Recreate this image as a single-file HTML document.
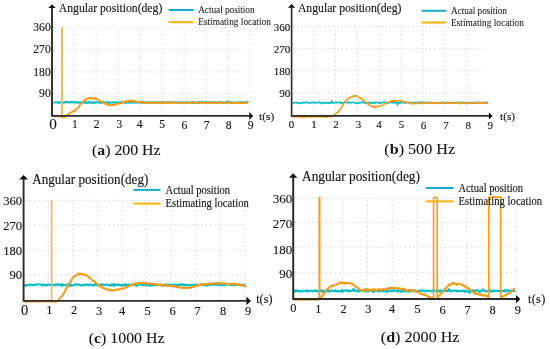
<!DOCTYPE html>
<html><head><meta charset="utf-8"><title>Angular position estimation</title>
<style>
html,body{margin:0;padding:0;background:#fff;}
body{width:550px;height:349px;overflow:hidden;}
svg{display:block;}
text{font-family:'Liberation Serif','Times New Roman',serif;}
</style></head><body>
<svg width="550" height="349" viewBox="0 0 550 349">
<rect width="550" height="349" fill="#fff"/>
<path d="M53.50,93.90 H247.50 M53.50,71.90 H247.50 M53.50,49.70 H247.50 M53.50,27.80 H247.50 M74.10,114.90 V27.80 M96.10,114.90 V27.80 M118.10,114.90 V27.80 M140.10,114.90 V27.80 M162.10,114.90 V27.80 M184.10,114.90 V27.80 M206.10,114.90 V27.80 M228.10,114.90 V27.80 M250.10,114.90 V27.80" stroke="#d6d6d6" stroke-width="1.1" stroke-dasharray="1.4 3.0" fill="none"/>
<path d="M293.10,93.10 H485.50 M293.10,70.80 H485.50 M293.10,48.70 H485.50 M293.10,26.60 H485.50 M313.60,114.90 V26.60 M335.50,114.90 V26.60 M357.40,114.90 V26.60 M379.30,114.90 V26.60 M401.20,114.90 V26.60 M423.10,114.90 V26.60 M445.00,114.90 V26.60 M466.90,114.90 V26.60" stroke="#d6d6d6" stroke-width="1.1" stroke-dasharray="1.4 3.0" fill="none"/>
<path d="M25.10,275.10 H245.10 M25.10,250.00 H245.10 M25.10,224.80 H245.10 M25.10,200.40 H245.10 M48.30,299.90 V200.40 M72.90,299.90 V200.40 M97.50,299.90 V200.40 M122.10,299.90 V200.40 M146.70,299.90 V200.40 M171.30,299.90 V200.40 M195.90,299.90 V200.40 M220.50,299.90 V200.40 M245.10,299.90 V200.40" stroke="#d6d6d6" stroke-width="1.1" stroke-dasharray="1.4 3.0" fill="none"/>
<path d="M294.70,272.50 H513.50 M294.70,247.20 H513.50 M294.70,222.50 H513.50 M294.70,197.90 H513.50 M317.95,298.10 V197.90 M342.70,298.10 V197.90 M367.45,298.10 V197.90 M392.20,298.10 V197.90 M416.95,298.10 V197.90 M441.70,298.10 V197.90 M466.45,298.10 V197.90 M491.20,298.10 V197.90 M515.95,298.10 V197.90" stroke="#d6d6d6" stroke-width="1.1" stroke-dasharray="1.4 3.0" fill="none"/>
<path d="M449,2 H528 V28.6 H449 Z M163,182 H252 V208.6 H163 Z M455,180 H546 V206.5 H455 Z" fill="#fff"/>
<path d="M53.50,102.50 L54.20,102.60 L54.90,102.40 L55.60,102.19 L56.30,102.34 L57.00,102.15 L57.70,102.52 L58.40,102.97 L59.10,102.33 L59.80,102.28 L60.50,102.67 L61.20,102.62 L61.90,102.54 L62.60,102.17 L63.30,102.49 L64.00,102.74 L64.70,102.03 L65.40,102.34 L66.10,101.83 L66.80,102.05 L67.50,101.86 L68.20,102.42 L68.90,102.06 L69.60,102.59 L70.30,102.55 L71.00,102.43 L71.70,101.62 L72.40,102.31 L73.10,102.48 L73.80,102.54 L74.50,101.96 L75.20,102.33 L75.90,102.16 L76.60,102.22 L77.30,102.87 L78.00,102.22 L78.70,102.49 L79.40,102.81 L80.10,102.30 L80.80,102.46 L81.50,102.54 L82.20,102.52 L82.90,102.07 L83.60,102.53 L84.30,102.98 L85.00,101.96 L85.70,102.80 L86.40,102.54 L87.10,102.28 L87.80,103.20 L88.50,102.77 L89.20,102.08 L89.90,102.53 L90.60,102.70 L91.30,102.43 L92.00,102.74 L92.70,102.48 L93.40,102.73 L94.10,103.00 L94.80,102.26 L95.50,102.57 L96.20,102.34 L96.90,102.54 L97.60,102.08 L98.30,102.30 L99.00,102.43 L99.70,102.81 L100.40,102.90 L101.10,102.04 L101.80,102.22 L102.50,102.73 L103.20,101.80 L103.90,102.34 L104.60,102.47 L105.30,102.94 L106.00,102.74 L106.70,102.39 L107.40,102.37 L108.10,102.41 L108.80,103.03 L109.50,102.35 L110.20,102.39 L110.90,102.62 L111.60,102.46 L112.30,102.43 L113.00,102.11 L113.70,102.50 L114.40,102.34 L115.10,102.91 L115.80,102.73 L116.50,102.49 L117.20,102.73 L117.90,102.38 L118.60,102.87 L119.30,102.50 L120.00,102.70 L120.70,102.05 L121.40,102.62 L122.10,101.91 L122.80,101.79 L123.50,102.39 L124.20,102.19 L124.90,102.56 L125.60,103.29 L126.30,102.21 L127.00,102.28 L127.70,102.57 L128.40,102.67 L129.10,102.44 L129.80,102.43 L130.50,102.75 L131.20,102.68 L131.90,102.14 L132.60,102.47 L133.30,102.51 L134.00,102.13 L134.70,102.59 L135.40,102.20 L136.10,102.84 L136.80,102.57 L137.50,102.53 L138.20,102.29 L138.90,102.46 L139.60,101.80 L140.30,102.10 L141.00,102.63 L141.70,101.76 L142.40,102.80 L143.10,101.89 L143.80,102.76 L144.50,102.20 L145.20,102.77 L145.90,102.55 L146.60,101.96 L147.30,102.94 L148.00,103.00 L148.70,102.48 L149.40,102.40 L150.10,102.44 L150.80,102.16 L151.50,102.88 L152.20,102.31 L152.90,102.48 L153.60,102.22 L154.30,102.28 L155.00,102.05 L155.70,102.94 L156.40,102.45 L157.10,102.84 L157.80,102.50 L158.50,102.26 L159.20,102.39 L159.90,102.30 L160.60,102.50 L161.30,102.37 L162.00,102.40 L162.70,102.02 L163.40,102.22 L164.10,103.08 L164.80,102.27 L165.50,102.13 L166.20,102.62 L166.90,102.99 L167.60,101.99 L168.30,102.43 L169.00,102.28 L169.70,101.88 L170.40,102.76 L171.10,102.49 L171.80,102.53 L172.50,102.24 L173.20,102.66 L173.90,102.31 L174.60,102.45 L175.30,102.11 L176.00,102.07 L176.70,102.97 L177.40,102.32 L178.10,102.60 L178.80,102.49 L179.50,102.35 L180.20,102.32 L180.90,102.72 L181.60,102.39 L182.30,102.45 L183.00,102.51 L183.70,102.91 L184.40,102.74 L185.10,102.63 L185.80,102.30 L186.50,102.02 L187.20,102.83 L187.90,102.84 L188.60,102.45 L189.30,102.69 L190.00,102.77 L190.70,102.79 L191.40,102.82 L192.10,102.34 L192.80,103.03 L193.50,102.06 L194.20,102.80 L194.90,102.67 L195.60,102.81 L196.30,103.16 L197.00,103.02 L197.70,102.10 L198.40,101.91 L199.10,102.79 L199.80,102.14 L200.50,102.50 L201.20,102.79 L201.90,101.92 L202.60,101.76 L203.30,102.59 L204.00,102.52 L204.70,102.41 L205.40,102.51 L206.10,102.20 L206.80,101.97 L207.50,102.44 L208.20,102.16 L208.90,101.92 L209.60,102.68 L210.30,102.48 L211.00,102.64 L211.70,102.15 L212.40,102.27 L213.10,102.15 L213.80,102.19 L214.50,102.57 L215.20,102.23 L215.90,102.62 L216.60,102.62 L217.30,103.21 L218.00,102.01 L218.70,102.81 L219.40,102.47 L220.10,102.50 L220.80,101.99 L221.50,102.34 L222.20,102.76 L222.90,102.47 L223.60,102.53 L224.30,102.40 L225.00,102.90 L225.70,102.49 L226.40,101.73 L227.10,102.26 L227.80,101.81 L228.50,101.36 L229.20,102.31 L229.90,102.97 L230.60,102.52 L231.30,102.09 L232.00,102.17 L232.70,102.90 L233.40,102.56 L234.10,102.52 L234.80,102.48 L235.50,102.51 L236.20,102.78 L236.90,102.69 L237.60,102.58 L238.30,102.13 L239.00,102.68 L239.70,102.26 L240.40,102.88 L241.10,102.06 L241.80,102.45 L242.50,102.50 L243.20,102.04 L243.90,103.10 L244.60,103.01 L245.30,102.34 L246.00,102.77 L246.70,102.63 L247.40,101.59 L248.10,102.59" stroke="#08bec6" stroke-width="2.0" fill="none" stroke-linejoin="round"/>
<path d="M52.5,116.9 H61.5" stroke="#f69a18" stroke-width="1.2" fill="none" opacity="0.7"/>
<path d="M61.30,116.78 L61.80,117.12 L62.30,117.00 L62.80,117.32 L63.30,117.32 L63.80,117.55 L64.30,117.07 L64.80,116.71 L65.30,116.85 L65.80,115.91 L66.30,115.55 L66.80,114.75 L67.30,115.31 L67.80,114.74 L68.30,114.34 L68.80,113.89 L69.30,113.40 L69.80,113.12 L70.30,112.70 L70.80,112.44 L71.30,112.25 L71.80,112.40 L72.30,111.87 L72.80,111.44 L73.30,111.03 L73.80,110.74 L74.30,111.07 L74.80,110.46 L75.30,110.03 L75.80,109.60 L76.30,109.06 L76.80,108.99 L77.30,108.84 L77.80,108.00 L78.30,107.47 L78.80,106.83 L79.30,106.24 L79.80,105.06 L80.30,104.74 L80.80,103.90 L81.30,103.78 L81.80,102.77 L82.30,102.62 L82.80,102.36 L83.30,101.32 L83.80,100.74 L84.30,100.50 L84.80,100.03 L85.30,99.40 L85.80,99.52 L86.30,99.74 L86.80,98.89 L87.30,98.71 L87.80,98.29 L88.30,98.50 L88.80,97.91 L89.30,97.82 L89.80,98.38 L90.30,97.69 L90.80,98.21 L91.30,98.33 L91.80,98.00 L92.30,98.13 L92.80,98.59 L93.30,98.08 L93.80,98.08 L94.30,97.99 L94.80,98.51 L95.30,99.05 L95.80,99.05 L96.30,98.67 L96.80,98.88 L97.30,99.21 L97.80,99.71 L98.30,99.87 L98.80,100.30 L99.30,100.65 L99.80,100.80 L100.30,101.17 L100.80,101.53 L101.30,101.75 L101.80,102.22 L102.30,102.91 L102.80,102.86 L103.30,103.00 L103.80,102.80 L104.30,103.64 L104.80,103.21 L105.30,103.57 L105.80,104.42 L106.30,104.58 L106.80,104.53 L107.30,104.26 L107.80,104.77 L108.30,104.78 L108.80,105.21 L109.30,105.71 L109.80,105.19 L110.30,104.94 L110.80,104.86 L111.30,105.18 L111.80,105.14 L112.30,104.83 L112.80,105.11 L113.30,104.66 L113.80,105.18 L114.30,105.04 L114.80,104.91 L115.30,104.34 L115.80,104.49 L116.30,104.19 L116.80,103.98 L117.30,103.85 L117.80,103.43 L118.30,103.23 L118.80,103.70 L119.30,103.26 L119.80,103.21 L120.30,103.27 L120.80,102.35 L121.30,102.46 L121.80,102.60 L122.30,102.53 L122.80,102.20 L123.30,102.48 L123.80,102.12 L124.30,101.60 L124.80,101.56 L125.30,101.92 L125.80,101.71 L126.30,100.93 L126.80,101.73 L127.30,101.41 L127.80,101.52 L128.30,100.95 L128.80,100.90 L129.30,100.60 L129.80,101.58 L130.30,100.78 L130.80,101.25 L131.30,100.62 L131.80,100.86 L132.30,100.39 L132.80,100.81 L133.30,101.28 L133.80,100.75 L134.30,101.50 L134.80,101.41 L135.30,101.15 L135.80,101.43 L136.30,101.57 L136.80,101.81 L137.30,101.79 L137.80,101.83 L138.30,102.08 L138.80,101.97 L139.30,101.97 L139.80,102.38 L140.30,102.68 L140.80,102.05 L141.30,102.52 L141.80,102.38 L142.30,102.33 L142.80,102.88 L143.30,102.53 L143.80,103.13 L144.30,102.53 L144.80,102.89 L145.30,102.74 L145.80,102.62 L146.30,103.02 L146.80,102.83 L147.30,103.05 L147.80,102.88 L148.30,102.60 L148.80,102.87 L149.30,102.91 L149.80,103.17 L150.30,102.64 L150.80,102.88 L151.30,102.40 L151.80,103.06 L152.30,102.57 L152.80,102.36 L153.30,102.85 L153.80,103.17 L154.30,102.42 L154.80,102.54 L155.30,102.63 L155.80,102.51 L156.30,102.93 L156.80,102.59 L157.30,102.61 L157.80,102.97 L158.30,102.59 L158.80,102.92 L159.30,102.53 L159.80,102.46 L160.30,102.29 L160.80,103.32 L161.30,102.71 L161.80,102.87 L162.30,102.79 L162.80,102.84 L163.30,102.81 L163.80,103.33 L164.30,102.51 L164.80,102.36 L165.30,102.52 L165.80,102.43 L166.30,103.01 L166.80,103.03 L167.30,102.53 L167.80,102.41 L168.30,102.70 L168.80,103.19 L169.30,102.01 L169.80,102.95 L170.30,102.50 L170.80,103.09 L171.30,102.50 L171.80,102.72 L172.30,102.38 L172.80,102.53 L173.30,103.19 L173.80,103.03 L174.30,102.69 L174.80,102.56 L175.30,102.27 L175.80,102.69 L176.30,102.79 L176.80,102.78 L177.30,102.77 L177.80,102.49 L178.30,102.78 L178.80,102.79 L179.30,103.16 L179.80,103.32 L180.30,102.76 L180.80,102.59 L181.30,102.78 L181.80,102.63 L182.30,102.59 L182.80,102.78 L183.30,102.51 L183.80,102.97 L184.30,102.77 L184.80,102.87 L185.30,102.75 L185.80,102.60 L186.30,102.53 L186.80,102.73 L187.30,102.65 L187.80,102.87 L188.30,102.80 L188.80,102.42 L189.30,102.82 L189.80,102.42 L190.30,102.63 L190.80,102.72 L191.30,102.22 L191.80,102.83 L192.30,102.84 L192.80,102.76 L193.30,102.68 L193.80,102.70 L194.30,102.53 L194.80,102.72 L195.30,102.65 L195.80,102.83 L196.30,102.46 L196.80,102.87 L197.30,102.84 L197.80,102.76 L198.30,102.68 L198.80,102.95 L199.30,102.33 L199.80,102.93 L200.30,102.87 L200.80,102.88 L201.30,102.91 L201.80,102.62 L202.30,102.73 L202.80,102.98 L203.30,102.92 L203.80,102.86 L204.30,102.38 L204.80,102.95 L205.30,103.13 L205.80,103.08 L206.30,102.87 L206.80,102.36 L207.30,103.06 L207.80,102.76 L208.30,102.09 L208.80,102.91 L209.30,102.38 L209.80,102.44 L210.30,102.62 L210.80,103.16 L211.30,102.70 L211.80,102.88 L212.30,103.29 L212.80,103.25 L213.30,102.77 L213.80,102.73 L214.30,102.45 L214.80,102.61 L215.30,102.92 L215.80,102.91 L216.30,102.83 L216.80,103.08 L217.30,102.58 L217.80,102.78 L218.30,103.00 L218.80,102.96 L219.30,103.10 L219.80,102.91 L220.30,102.71 L220.80,102.90 L221.30,102.52 L221.80,102.34 L222.30,102.96 L222.80,102.78 L223.30,102.89 L223.80,102.32 L224.30,102.70 L224.80,102.63 L225.30,102.56 L225.80,102.17 L226.30,102.71 L226.80,103.05 L227.30,102.91 L227.80,102.63 L228.30,102.80 L228.80,103.01 L229.30,102.03 L229.80,102.77 L230.30,102.95 L230.80,102.99 L231.30,103.28 L231.80,103.12 L232.30,102.89 L232.80,102.88 L233.30,103.02 L233.80,102.65 L234.30,102.79 L234.80,103.05 L235.30,103.35 L235.80,102.76 L236.30,102.79 L236.80,102.86 L237.30,103.18 L237.80,102.79 L238.30,103.21 L238.80,102.53 L239.30,102.75 L239.80,102.74 L240.30,103.02 L240.80,103.09 L241.30,102.38 L241.80,102.54 L242.30,102.89 L242.80,102.62 L243.30,102.37 L243.80,103.09 L244.30,102.94 L244.80,102.94 L245.30,102.67 L245.80,103.09 L246.30,102.73 L246.80,103.11 L247.30,102.54 L247.80,102.56 L248.30,102.86" stroke="#f69a18" stroke-width="1.8" fill="none" stroke-linejoin="round"/>
<path d="M62.0,116.5 V27.2" stroke="#fbb245" stroke-width="1.8" fill="none"/>
<path d="M292.50,102.45 L293.20,102.94 L293.90,102.79 L294.60,102.38 L295.30,102.73 L296.00,102.58 L296.70,103.02 L297.40,102.48 L298.10,102.55 L298.80,103.12 L299.50,103.48 L300.20,103.40 L300.90,102.72 L301.60,102.78 L302.30,103.24 L303.00,102.66 L303.70,102.36 L304.40,102.74 L305.10,102.86 L305.80,102.41 L306.50,102.12 L307.20,102.20 L307.90,102.93 L308.60,102.43 L309.30,102.65 L310.00,102.77 L310.70,102.92 L311.40,102.58 L312.10,102.87 L312.80,102.39 L313.50,102.57 L314.20,102.34 L314.90,103.10 L315.60,102.69 L316.30,102.44 L317.00,102.58 L317.70,102.62 L318.40,102.95 L319.10,102.14 L319.80,102.34 L320.50,102.57 L321.20,103.59 L321.90,103.03 L322.60,102.66 L323.30,102.95 L324.00,103.42 L324.70,102.62 L325.40,102.57 L326.10,103.12 L326.80,102.87 L327.50,102.93 L328.20,102.52 L328.90,103.37 L329.60,103.30 L330.30,102.90 L331.00,102.94 L331.70,100.79 L332.40,102.92 L333.10,102.63 L333.80,102.85 L334.50,102.94 L335.20,102.58 L335.90,102.11 L336.60,102.83 L337.30,102.44 L338.00,102.58 L338.70,102.49 L339.40,102.58 L340.10,101.89 L340.80,103.13 L341.50,102.79 L342.20,103.09 L342.90,103.39 L343.60,102.71 L344.30,102.07 L345.00,102.39 L345.70,102.28 L346.40,102.52 L347.10,102.73 L347.80,102.00 L348.50,102.82 L349.20,102.17 L349.90,102.80 L350.60,102.66 L351.30,102.59 L352.00,102.67 L352.70,102.51 L353.40,102.49 L354.10,102.11 L354.80,102.69 L355.50,103.35 L356.20,103.39 L356.90,103.16 L357.60,102.95 L358.30,102.46 L359.00,103.20 L359.70,102.68 L360.40,102.68 L361.10,102.60 L361.80,102.73 L362.50,101.75 L363.20,102.67 L363.90,102.32 L364.60,102.57 L365.30,103.50 L366.00,102.68 L366.70,102.62 L367.40,102.89 L368.10,102.95 L368.80,102.31 L369.50,102.63 L370.20,103.02 L370.90,102.79 L371.60,102.74 L372.30,103.24 L373.00,102.46 L373.70,102.73 L374.40,102.52 L375.10,103.22 L375.80,102.02 L376.50,102.47 L377.20,102.51 L377.90,102.93 L378.60,102.91 L379.30,103.19 L380.00,102.15 L380.70,102.96 L381.40,102.60 L382.10,102.47 L382.80,102.89 L383.50,102.38 L384.20,101.97 L384.90,102.57 L385.60,102.18 L386.30,102.47 L387.00,102.83 L387.70,102.81 L388.40,103.26 L389.10,102.63 L389.80,102.16 L390.50,102.44 L391.20,102.38 L391.90,102.27 L392.60,102.85 L393.30,102.47 L394.00,102.01 L394.70,102.94 L395.40,102.66 L396.10,102.82 L396.80,102.74 L397.50,105.12 L398.20,102.71 L398.90,103.13 L399.60,102.85 L400.30,102.84 L401.00,102.84 L401.70,102.19 L402.40,102.64 L403.10,102.61 L403.80,102.77 L404.50,102.22 L405.20,103.27 L405.90,102.74 L406.60,102.28 L407.30,102.10 L408.00,102.60 L408.70,102.67 L409.40,102.45 L410.10,102.73 L410.80,102.48 L411.50,102.89 L412.20,102.45 L412.90,102.69 L413.60,103.04 L414.30,103.60 L415.00,102.35 L415.70,102.54 L416.40,102.41 L417.10,102.97 L417.80,102.30 L418.50,102.53 L419.20,102.69 L419.90,102.36 L420.60,102.36 L421.30,102.53 L422.00,101.96 L422.70,102.19 L423.40,102.56 L424.10,102.75 L424.80,102.63 L425.50,102.08 L426.20,102.54 L426.90,102.98 L427.60,102.89 L428.30,102.67 L429.00,102.39 L429.70,102.92 L430.40,102.50 L431.10,102.29 L431.80,102.42 L432.50,103.21 L433.20,102.78 L433.90,103.11 L434.60,102.53 L435.30,103.03 L436.00,102.49 L436.70,102.64 L437.40,103.57 L438.10,102.97 L438.80,102.52 L439.50,102.67 L440.20,102.81 L440.90,103.12 L441.60,102.53 L442.30,102.09 L443.00,102.60 L443.70,102.71 L444.40,102.74 L445.10,103.16 L445.80,102.81 L446.50,102.98 L447.20,102.31 L447.90,103.00 L448.60,103.43 L449.30,102.97 L450.00,102.79 L450.70,102.75 L451.40,103.33 L452.10,102.38 L452.80,102.66 L453.50,102.86 L454.20,102.96 L454.90,102.55 L455.60,102.81 L456.30,102.60 L457.00,102.74 L457.70,102.65 L458.40,102.30 L459.10,102.69 L459.80,103.01 L460.50,102.36 L461.20,102.62 L461.90,102.93 L462.60,102.33 L463.30,102.76 L464.00,102.33 L464.70,103.10 L465.40,103.51 L466.10,103.41 L466.80,102.62 L467.50,102.96 L468.20,102.74 L468.90,102.74 L469.60,103.24 L470.30,102.24 L471.00,103.07 L471.70,102.68 L472.40,103.19 L473.10,102.77 L473.80,102.46 L474.50,102.80 L475.20,102.96 L475.90,102.71 L476.60,102.87 L477.30,102.52 L478.00,101.95 L478.70,103.02 L479.40,102.94 L480.10,102.75 L480.80,102.72 L481.50,103.06 L482.20,102.54 L482.90,102.45 L483.60,102.63 L484.30,103.12 L485.00,102.21 L485.70,103.12 L486.40,102.48 L487.10,102.31 L487.80,103.14" stroke="#08bec6" stroke-width="1.6" fill="none" stroke-linejoin="round"/>
<path d="M291.60,116.67 L292.10,116.34 L292.60,116.60 L293.10,116.96 L293.60,117.03 L294.10,116.58 L294.60,116.81 L295.10,116.90 L295.60,116.52 L296.10,116.80 L296.60,116.69 L297.10,116.55 L297.60,116.56 L298.10,116.72 L298.60,116.71 L299.10,116.54 L299.60,116.58 L300.10,117.01 L300.60,116.76 L301.10,116.95 L301.60,117.04 L302.10,116.86 L302.60,117.34 L303.10,116.47 L303.60,116.93 L304.10,116.61 L304.60,117.22 L305.10,117.18 L305.60,116.15 L306.10,116.43 L306.60,116.89 L307.10,116.92 L307.60,116.91 L308.10,116.68 L308.60,116.83 L309.10,116.88 L309.60,116.68 L310.10,116.99 L310.60,116.07 L311.10,116.88 L311.60,116.41 L312.10,116.97 L312.60,116.64 L313.10,116.45 L313.60,116.80 L314.10,116.44 L314.60,116.44 L315.10,116.26 L315.60,116.69 L316.10,116.84 L316.60,116.99 L317.10,116.66 L317.60,116.99 L318.10,116.71 L318.60,116.67 L319.10,116.86 L319.60,117.00 L320.10,116.60 L320.60,116.63 L321.10,116.65 L321.60,116.72 L322.10,116.45 L322.60,116.99 L323.10,116.59 L323.60,116.83 L324.10,116.47 L324.60,116.80 L325.10,116.81 L325.60,116.58 L326.10,117.27 L326.60,116.80 L327.10,117.20 L327.60,116.97 L328.10,116.51 L328.60,116.59 L329.10,116.82 L329.60,116.72 L330.10,116.71 L330.60,116.62 L331.10,116.19 L331.60,116.56 L332.10,115.82 L332.60,116.30 L333.10,115.68 L333.60,115.33 L334.10,115.10 L334.60,114.86 L335.10,114.03 L335.60,113.57 L336.10,113.36 L336.60,112.65 L337.10,112.49 L337.60,112.72 L338.10,111.47 L338.60,111.41 L339.10,110.30 L339.60,110.20 L340.10,109.42 L340.60,108.81 L341.10,108.23 L341.60,107.76 L342.10,106.48 L342.60,105.60 L343.10,104.43 L343.60,104.02 L344.10,102.97 L344.60,102.50 L345.10,101.55 L345.60,101.42 L346.10,99.84 L346.60,99.85 L347.10,99.75 L347.60,98.99 L348.10,98.47 L348.60,98.25 L349.10,97.60 L349.60,97.72 L350.10,98.09 L350.60,97.49 L351.10,96.65 L351.60,96.52 L352.10,96.46 L352.60,96.67 L353.10,96.00 L353.60,95.89 L354.10,96.23 L354.60,96.16 L355.10,95.80 L355.60,95.63 L356.10,95.61 L356.60,95.99 L357.10,95.74 L357.60,96.79 L358.10,96.64 L358.60,97.20 L359.10,97.85 L359.60,97.92 L360.10,97.53 L360.60,98.39 L361.10,98.81 L361.60,98.65 L362.10,99.00 L362.60,99.66 L363.10,99.69 L363.60,100.99 L364.10,100.36 L364.60,101.16 L365.10,101.81 L365.60,102.22 L366.10,102.69 L366.60,103.09 L367.10,103.33 L367.60,104.09 L368.10,103.55 L368.60,104.51 L369.10,104.65 L369.60,105.19 L370.10,105.49 L370.60,105.40 L371.10,105.65 L371.60,106.21 L372.10,106.24 L372.60,106.10 L373.10,107.00 L373.60,107.19 L374.10,106.24 L374.60,106.81 L375.10,107.48 L375.60,107.02 L376.10,106.85 L376.60,106.69 L377.10,106.53 L377.60,106.53 L378.10,106.33 L378.60,106.57 L379.10,106.12 L379.60,105.98 L380.10,105.64 L380.60,105.81 L381.10,105.39 L381.60,105.39 L382.10,105.51 L382.60,105.08 L383.10,104.87 L383.60,104.58 L384.10,104.25 L384.60,103.96 L385.10,103.68 L385.60,103.77 L386.10,103.04 L386.60,103.50 L387.10,102.91 L387.60,102.47 L388.10,102.33 L388.60,102.06 L389.10,102.10 L389.60,101.68 L390.10,102.04 L390.60,101.37 L391.10,100.84 L391.60,101.18 L392.10,100.73 L392.60,101.20 L393.10,101.42 L393.60,101.22 L394.10,100.59 L394.60,100.69 L395.10,101.34 L395.60,100.88 L396.10,100.75 L396.60,101.02 L397.10,101.39 L397.60,101.06 L398.10,100.75 L398.60,100.85 L399.10,100.98 L399.60,100.70 L400.10,100.66 L400.60,101.06 L401.10,100.89 L401.60,101.24 L402.10,101.40 L402.60,102.15 L403.10,101.37 L403.60,101.68 L404.10,101.78 L404.60,102.05 L405.10,102.31 L405.60,101.98 L406.10,101.99 L406.60,101.87 L407.10,102.18 L407.60,102.71 L408.10,102.69 L408.60,102.51 L409.10,102.81 L409.60,103.04 L410.10,103.28 L410.60,103.07 L411.10,103.26 L411.60,102.90 L412.10,103.16 L412.60,103.99 L413.10,102.96 L413.60,103.50 L414.10,103.66 L414.60,103.49 L415.10,103.35 L415.60,103.54 L416.10,103.54 L416.60,103.49 L417.10,102.95 L417.60,103.40 L418.10,103.17 L418.60,103.22 L419.10,103.39 L419.60,103.47 L420.10,103.50 L420.60,103.07 L421.10,103.43 L421.60,103.46 L422.10,103.42 L422.60,103.46 L423.10,103.01 L423.60,102.98 L424.10,103.24 L424.60,102.62 L425.10,103.06 L425.60,102.85 L426.10,102.90 L426.60,102.51 L427.10,102.75 L427.60,102.99 L428.10,103.25 L428.60,103.28 L429.10,102.98 L429.60,102.95 L430.10,102.77 L430.60,103.11 L431.10,102.93 L431.60,103.17 L432.10,103.49 L432.60,102.99 L433.10,102.58 L433.60,102.76 L434.10,102.59 L434.60,102.66 L435.10,103.37 L435.60,103.06 L436.10,102.57 L436.60,103.18 L437.10,103.35 L437.60,102.90 L438.10,102.81 L438.60,102.91 L439.10,103.08 L439.60,103.18 L440.10,103.33 L440.60,103.34 L441.10,103.33 L441.60,103.38 L442.10,103.19 L442.60,102.57 L443.10,102.96 L443.60,103.09 L444.10,102.89 L444.60,103.26 L445.10,102.90 L445.60,102.74 L446.10,103.40 L446.60,103.19 L447.10,103.06 L447.60,103.26 L448.10,103.30 L448.60,103.10 L449.10,102.31 L449.60,102.81 L450.10,102.87 L450.60,102.72 L451.10,103.06 L451.60,103.33 L452.10,102.86 L452.60,102.68 L453.10,103.57 L453.60,102.87 L454.10,102.65 L454.60,103.07 L455.10,103.12 L455.60,102.80 L456.10,103.22 L456.60,102.86 L457.10,102.74 L457.60,103.05 L458.10,103.22 L458.60,102.82 L459.10,103.09 L459.60,102.97 L460.10,103.79 L460.60,102.80 L461.10,103.39 L461.60,102.99 L462.10,102.96 L462.60,103.20 L463.10,103.25 L463.60,103.35 L464.10,103.09 L464.60,102.83 L465.10,102.85 L465.60,103.14 L466.10,103.16 L466.60,103.39 L467.10,103.12 L467.60,103.30 L468.10,103.42 L468.60,103.05 L469.10,102.58 L469.60,102.67 L470.10,102.60 L470.60,103.45 L471.10,102.76 L471.60,103.34 L472.10,103.16 L472.60,103.48 L473.10,103.28 L473.60,102.97 L474.10,102.94 L474.60,103.02 L475.10,103.05 L475.60,102.85 L476.10,102.99 L476.60,103.45 L477.10,102.52 L477.60,103.07 L478.10,102.75 L478.60,103.05 L479.10,103.24 L479.60,102.98 L480.10,103.22 L480.60,102.55 L481.10,103.31 L481.60,102.83 L482.10,103.17 L482.60,103.05 L483.10,102.28 L483.60,102.79 L484.10,103.06 L484.60,103.44 L485.10,103.08 L485.60,103.07 L486.10,102.60 L486.60,103.40 L487.10,103.51 L487.60,103.01 L488.10,102.94" stroke="#f69a18" stroke-width="1.5" fill="none" stroke-linejoin="round"/>
<path d="M24.50,284.28 L25.20,285.24 L25.90,285.93 L26.60,285.17 L27.30,285.38 L28.00,285.11 L28.70,284.53 L29.40,285.41 L30.10,284.43 L30.80,284.82 L31.50,285.01 L32.20,285.24 L32.90,285.06 L33.60,285.05 L34.30,284.61 L35.00,284.41 L35.70,284.92 L36.40,284.63 L37.10,284.40 L37.80,284.42 L38.50,284.71 L39.20,284.20 L39.90,284.39 L40.60,284.28 L41.30,284.97 L42.00,285.06 L42.70,285.66 L43.40,284.33 L44.10,284.64 L44.80,285.25 L45.50,284.82 L46.20,284.78 L46.90,285.55 L47.60,284.77 L48.30,284.46 L49.00,284.40 L49.70,285.03 L50.40,285.02 L51.10,284.38 L51.80,284.53 L52.50,285.10 L53.20,285.12 L53.90,284.66 L54.60,285.14 L55.30,285.12 L56.00,284.22 L56.70,284.78 L57.40,285.06 L58.10,284.68 L58.80,284.09 L59.50,284.79 L60.20,285.19 L60.90,285.50 L61.60,284.07 L62.30,285.89 L63.00,284.47 L63.70,285.26 L64.40,285.37 L65.10,285.27 L65.80,284.96 L66.50,284.46 L67.20,285.14 L67.90,284.63 L68.60,283.94 L69.30,285.97 L70.00,285.17 L70.70,285.59 L71.40,284.55 L72.10,285.46 L72.80,285.50 L73.50,285.49 L74.20,284.89 L74.90,284.44 L75.60,284.83 L76.30,284.06 L77.00,284.25 L77.70,284.93 L78.40,284.52 L79.10,284.84 L79.80,284.86 L80.50,285.63 L81.20,285.39 L81.90,284.88 L82.60,285.36 L83.30,284.60 L84.00,284.77 L84.70,285.25 L85.40,284.43 L86.10,284.79 L86.80,284.40 L87.50,284.94 L88.20,285.52 L88.90,284.61 L89.60,284.99 L90.30,284.56 L91.00,284.46 L91.70,284.43 L92.40,285.45 L93.10,285.80 L93.80,285.08 L94.50,284.63 L95.20,285.17 L95.90,284.77 L96.60,285.20 L97.30,285.01 L98.00,285.01 L98.70,285.13 L99.40,284.68 L100.10,284.75 L100.80,284.25 L101.50,284.73 L102.20,284.36 L102.90,284.85 L103.60,284.54 L104.30,284.94 L105.00,285.07 L105.70,284.36 L106.40,284.59 L107.10,284.54 L107.80,285.18 L108.50,285.55 L109.20,285.22 L109.90,284.77 L110.60,285.46 L111.30,284.32 L112.00,285.47 L112.70,284.65 L113.40,283.84 L114.10,285.91 L114.80,285.50 L115.50,284.51 L116.20,284.96 L116.90,284.82 L117.60,284.94 L118.30,284.34 L119.00,284.64 L119.70,285.08 L120.40,284.98 L121.10,285.36 L121.80,284.93 L122.50,285.79 L123.20,284.63 L123.90,285.00 L124.60,284.17 L125.30,284.42 L126.00,285.40 L126.70,284.54 L127.40,285.10 L128.10,284.88 L128.80,284.50 L129.50,284.77 L130.20,284.70 L130.90,284.71 L131.60,285.19 L132.30,285.15 L133.00,284.68 L133.70,284.56 L134.40,285.01 L135.10,284.86 L135.80,285.29 L136.50,285.91 L137.20,285.22 L137.90,284.89 L138.60,284.83 L139.30,284.57 L140.00,284.56 L140.70,284.52 L141.40,284.75 L142.10,284.74 L142.80,285.18 L143.50,284.75 L144.20,284.82 L144.90,284.44 L145.60,285.52 L146.30,285.09 L147.00,285.58 L147.70,285.20 L148.40,285.47 L149.10,284.81 L149.80,285.17 L150.50,285.93 L151.20,284.44 L151.90,285.35 L152.60,285.55 L153.30,285.06 L154.00,285.19 L154.70,285.39 L155.40,284.65 L156.10,285.06 L156.80,284.56 L157.50,284.64 L158.20,284.66 L158.90,284.84 L159.60,284.96 L160.30,285.08 L161.00,284.35 L161.70,285.67 L162.40,285.35 L163.10,285.18 L163.80,284.76 L164.50,284.87 L165.20,285.11 L165.90,285.06 L166.60,284.25 L167.30,285.19 L168.00,286.04 L168.70,284.18 L169.40,285.29 L170.10,285.04 L170.80,284.86 L171.50,285.43 L172.20,284.44 L172.90,284.96 L173.60,285.47 L174.30,284.82 L175.00,284.74 L175.70,284.94 L176.40,284.73 L177.10,285.50 L177.80,284.55 L178.50,285.24 L179.20,284.41 L179.90,285.16 L180.60,284.86 L181.30,283.89 L182.00,284.90 L182.70,284.48 L183.40,284.73 L184.10,285.50 L184.80,284.46 L185.50,284.49 L186.20,285.46 L186.90,284.95 L187.60,285.50 L188.30,285.03 L189.00,284.56 L189.70,284.87 L190.40,285.38 L191.10,285.27 L191.80,284.90 L192.50,284.92 L193.20,284.86 L193.90,284.67 L194.60,285.65 L195.30,284.90 L196.00,284.46 L196.70,284.71 L197.40,285.18 L198.10,285.15 L198.80,284.85 L199.50,284.64 L200.20,284.91 L200.90,284.25 L201.60,284.39 L202.30,285.21 L203.00,284.71 L203.70,285.05 L204.40,285.38 L205.10,285.15 L205.80,284.91 L206.50,285.73 L207.20,285.16 L207.90,284.76 L208.60,285.19 L209.30,285.06 L210.00,284.57 L210.70,284.93 L211.40,284.84 L212.10,284.13 L212.80,284.83 L213.50,284.79 L214.20,284.73 L214.90,284.26 L215.60,284.76 L216.30,284.88 L217.00,284.94 L217.70,284.46 L218.40,285.15 L219.10,284.43 L219.80,284.81 L220.50,285.41 L221.20,284.63 L221.90,284.70 L222.60,285.32 L223.30,284.75 L224.00,284.78 L224.70,284.99 L225.40,285.31 L226.10,284.04 L226.80,284.58 L227.50,284.51 L228.20,284.48 L228.90,284.57 L229.60,284.57 L230.30,285.02 L231.00,284.55 L231.70,284.95 L232.40,285.06 L233.10,284.62 L233.80,284.95 L234.50,285.54 L235.20,285.03 L235.90,284.65 L236.60,284.87 L237.30,284.54 L238.00,285.01 L238.70,285.24 L239.40,284.58 L240.10,284.82 L240.80,285.33 L241.50,284.71 L242.20,284.97 L242.90,284.50 L243.60,284.58 L244.30,284.70 L245.00,285.73 L245.70,284.74" stroke="#08bec6" stroke-width="2.0" fill="none" stroke-linejoin="round"/>
<path d="M23.70,301.23 L24.20,301.22 L24.70,301.35 L25.20,301.61 L25.70,301.46 L26.20,302.06 L26.70,301.47 L27.20,301.86 L27.70,301.49 L28.20,301.59 L28.70,300.94 L29.20,301.36 L29.70,301.38 L30.20,301.32 L30.70,300.71 L31.20,301.68 L31.70,301.28 L32.20,301.26 L32.70,301.32 L33.20,301.33 L33.70,301.53 L34.20,300.99 L34.70,301.10 L35.20,301.49 L35.70,301.45 L36.20,301.28 L36.70,301.22 L37.20,301.13 L37.70,301.38 L38.20,301.78 L38.70,301.06 L39.20,301.89 L39.70,301.67 L40.20,301.26 L40.70,301.65 L41.20,300.93 L41.70,300.85 L42.20,300.99 L42.70,301.27 L43.20,301.30 L43.70,301.24 L44.20,301.43 L44.70,300.72 L45.20,301.56 L45.70,300.95 L46.20,301.19 L46.70,301.27 L47.20,301.03 L47.70,300.96 L48.20,301.08 L48.70,301.40 L49.20,301.59 L49.70,301.58 L50.20,301.08 L50.70,301.15 L51.20,301.11 L51.70,301.54 L52.20,300.75 L52.70,301.80 L53.20,301.24 L53.70,301.15 L54.20,301.51 L54.70,301.73 L55.20,301.51 L55.70,301.73 L56.20,301.36 L56.70,301.54 L57.20,301.27 L57.70,300.50 L58.20,300.58 L58.70,299.71 L59.20,299.17 L59.70,298.31 L60.20,297.96 L60.70,297.74 L61.20,296.51 L61.70,296.58 L62.20,295.87 L62.70,295.16 L63.20,293.60 L63.70,293.46 L64.20,292.85 L64.70,291.51 L65.20,290.87 L65.70,289.15 L66.20,289.19 L66.70,287.84 L67.20,287.43 L67.70,285.68 L68.20,285.66 L68.70,284.57 L69.20,284.10 L69.70,282.70 L70.20,281.94 L70.70,282.00 L71.20,280.16 L71.70,279.38 L72.20,278.73 L72.70,277.76 L73.20,277.82 L73.70,277.42 L74.20,276.17 L74.70,275.48 L75.20,276.10 L75.70,275.77 L76.20,275.39 L76.70,275.22 L77.20,274.32 L77.70,274.31 L78.20,273.72 L78.70,273.54 L79.20,274.17 L79.70,273.55 L80.20,274.44 L80.70,273.73 L81.20,273.53 L81.70,274.07 L82.20,274.49 L82.70,274.20 L83.20,273.81 L83.70,274.49 L84.20,275.00 L84.70,274.60 L85.20,274.72 L85.70,275.50 L86.20,275.43 L86.70,275.29 L87.20,275.82 L87.70,276.04 L88.20,276.75 L88.70,277.09 L89.20,277.84 L89.70,278.13 L90.20,277.84 L90.70,278.91 L91.20,279.50 L91.70,279.77 L92.20,280.35 L92.70,280.23 L93.20,280.50 L93.70,281.52 L94.20,281.30 L94.70,281.38 L95.20,282.83 L95.70,282.70 L96.20,283.27 L96.70,283.34 L97.20,283.79 L97.70,284.25 L98.20,284.90 L98.70,285.52 L99.20,285.03 L99.70,286.34 L100.20,286.04 L100.70,286.37 L101.20,287.19 L101.70,287.18 L102.20,286.92 L102.70,288.21 L103.20,287.56 L103.70,288.12 L104.20,288.31 L104.70,288.90 L105.20,288.50 L105.70,289.16 L106.20,288.79 L106.70,289.56 L107.20,289.12 L107.70,289.40 L108.20,290.27 L108.70,289.90 L109.20,289.95 L109.70,290.74 L110.20,290.23 L110.70,289.93 L111.20,290.48 L111.70,289.90 L112.20,290.66 L112.70,290.68 L113.20,290.10 L113.70,290.06 L114.20,290.28 L114.70,290.17 L115.20,289.80 L115.70,290.22 L116.20,289.31 L116.70,289.74 L117.20,289.66 L117.70,289.60 L118.20,289.68 L118.70,289.08 L119.20,289.54 L119.70,289.18 L120.20,288.91 L120.70,288.55 L121.20,288.48 L121.70,288.85 L122.20,288.30 L122.70,288.50 L123.20,288.69 L123.70,288.53 L124.20,288.52 L124.70,287.73 L125.20,287.26 L125.70,287.71 L126.20,287.24 L126.70,287.25 L127.20,286.64 L127.70,286.76 L128.20,286.38 L128.70,286.08 L129.20,285.77 L129.70,285.49 L130.20,285.20 L130.70,284.99 L131.20,285.03 L131.70,284.37 L132.20,284.94 L132.70,284.22 L133.20,284.44 L133.70,283.96 L134.20,283.79 L134.70,284.39 L135.20,283.52 L135.70,283.09 L136.20,283.17 L136.70,283.20 L137.20,283.90 L137.70,283.20 L138.20,283.37 L138.70,282.71 L139.20,283.12 L139.70,283.21 L140.20,283.58 L140.70,282.79 L141.20,283.22 L141.70,283.14 L142.20,282.73 L142.70,283.07 L143.20,283.02 L143.70,282.39 L144.20,283.36 L144.70,283.37 L145.20,283.09 L145.70,282.84 L146.20,283.78 L146.70,283.43 L147.20,283.71 L147.70,283.87 L148.20,283.30 L148.70,283.76 L149.20,283.46 L149.70,283.56 L150.20,283.59 L150.70,283.65 L151.20,284.05 L151.70,283.78 L152.20,283.73 L152.70,283.74 L153.20,283.98 L153.70,283.63 L154.20,283.81 L154.70,284.00 L155.20,283.89 L155.70,284.08 L156.20,283.98 L156.70,284.87 L157.20,284.71 L157.70,284.48 L158.20,284.38 L158.70,285.15 L159.20,284.61 L159.70,284.54 L160.20,284.72 L160.70,284.78 L161.20,285.19 L161.70,284.80 L162.20,285.54 L162.70,284.65 L163.20,285.22 L163.70,284.74 L164.20,285.71 L164.70,285.09 L165.20,285.24 L165.70,285.63 L166.20,285.80 L166.70,285.12 L167.20,285.43 L167.70,285.17 L168.20,285.73 L168.70,285.72 L169.20,285.71 L169.70,285.67 L170.20,285.84 L170.70,285.79 L171.20,286.27 L171.70,286.65 L172.20,285.62 L172.70,286.26 L173.20,286.23 L173.70,286.60 L174.20,286.21 L174.70,286.55 L175.20,286.34 L175.70,286.98 L176.20,286.87 L176.70,286.87 L177.20,287.13 L177.70,287.02 L178.20,286.68 L178.70,287.45 L179.20,287.44 L179.70,287.37 L180.20,287.81 L180.70,287.96 L181.20,287.29 L181.70,287.45 L182.20,288.26 L182.70,288.27 L183.20,287.63 L183.70,287.53 L184.20,287.74 L184.70,287.81 L185.20,287.48 L185.70,288.01 L186.20,287.59 L186.70,287.60 L187.20,288.24 L187.70,287.68 L188.20,287.82 L188.70,287.97 L189.20,287.94 L189.70,287.47 L190.20,287.49 L190.70,287.09 L191.20,287.79 L191.70,287.31 L192.20,286.61 L192.70,286.83 L193.20,286.91 L193.70,286.69 L194.20,286.98 L194.70,286.68 L195.20,285.93 L195.70,285.93 L196.20,285.41 L196.70,285.77 L197.20,285.61 L197.70,286.30 L198.20,285.36 L198.70,284.55 L199.20,284.91 L199.70,285.08 L200.20,284.57 L200.70,284.63 L201.20,284.72 L201.70,284.87 L202.20,284.64 L202.70,284.34 L203.20,284.80 L203.70,284.31 L204.20,284.25 L204.70,283.90 L205.20,284.03 L205.70,284.42 L206.20,283.63 L206.70,284.06 L207.20,284.25 L207.70,283.84 L208.20,283.98 L208.70,283.49 L209.20,284.21 L209.70,284.09 L210.20,283.77 L210.70,283.09 L211.20,283.27 L211.70,283.88 L212.20,284.08 L212.70,283.60 L213.20,283.87 L213.70,283.26 L214.20,283.37 L214.70,283.42 L215.20,283.54 L215.70,282.91 L216.20,283.70 L216.70,283.82 L217.20,283.04 L217.70,282.98 L218.20,283.53 L218.70,283.21 L219.20,282.67 L219.70,283.70 L220.20,283.51 L220.70,283.32 L221.20,284.16 L221.70,283.54 L222.20,283.27 L222.70,283.57 L223.20,283.22 L223.70,283.33 L224.20,283.72 L224.70,283.44 L225.20,283.49 L225.70,284.20 L226.20,283.96 L226.70,283.97 L227.20,283.90 L227.70,283.92 L228.20,284.25 L228.70,283.81 L229.20,284.44 L229.70,283.57 L230.20,283.82 L230.70,283.48 L231.20,283.84 L231.70,284.15 L232.20,284.48 L232.70,283.83 L233.20,284.08 L233.70,284.00 L234.20,283.91 L234.70,283.81 L235.20,284.26 L235.70,283.73 L236.20,284.37 L236.70,284.39 L237.20,284.23 L237.70,284.17 L238.20,284.11 L238.70,285.22 L239.20,284.26 L239.70,285.26 L240.20,285.02 L240.70,284.80 L241.20,284.64 L241.70,285.45 L242.20,285.78 L242.70,285.05 L243.20,285.38 L243.70,285.95 L244.20,285.86 L244.70,286.54 L245.20,285.87 L245.70,286.38" stroke="#f69a18" stroke-width="1.9" fill="none" stroke-linejoin="round"/>
<path d="M51.6,301 V199.9" stroke="#fbb245" stroke-width="1.6" fill="none"/>
<path d="M294.00,290.34 L294.70,291.84 L295.40,290.57 L296.10,289.91 L296.80,290.84 L297.50,290.84 L298.20,291.76 L298.90,290.75 L299.60,290.89 L300.30,291.17 L301.00,291.61 L301.70,290.87 L302.40,291.37 L303.10,291.13 L303.80,290.77 L304.50,290.93 L305.20,290.91 L305.90,290.49 L306.60,291.45 L307.30,290.28 L308.00,291.43 L308.70,291.33 L309.40,290.86 L310.10,290.56 L310.80,290.80 L311.50,291.11 L312.20,291.23 L312.90,291.03 L313.60,291.35 L314.30,290.65 L315.00,291.01 L315.70,290.19 L316.40,291.24 L317.10,290.97 L317.80,290.71 L318.50,291.42 L319.20,291.21 L319.90,289.63 L320.60,290.92 L321.30,290.25 L322.00,291.38 L322.70,292.02 L323.40,290.67 L324.10,290.93 L324.80,290.79 L325.50,291.06 L326.20,291.19 L326.90,291.48 L327.60,290.46 L328.30,291.61 L329.00,290.48 L329.70,291.02 L330.40,291.42 L331.10,291.22 L331.80,290.48 L332.50,290.58 L333.20,290.69 L333.90,290.88 L334.60,291.42 L335.30,290.32 L336.00,291.11 L336.70,291.17 L337.40,291.15 L338.10,291.11 L338.80,291.58 L339.50,291.12 L340.20,291.29 L340.90,291.15 L341.60,291.71 L342.30,290.05 L343.00,291.48 L343.70,290.78 L344.40,290.77 L345.10,290.46 L345.80,290.06 L346.50,290.73 L347.20,290.59 L347.90,291.12 L348.60,290.24 L349.30,291.54 L350.00,291.02 L350.70,290.79 L351.40,290.58 L352.10,290.55 L352.80,290.39 L353.50,288.86 L354.20,290.90 L354.90,290.82 L355.60,290.26 L356.30,290.78 L357.00,290.50 L357.70,290.97 L358.40,291.74 L359.10,291.18 L359.80,290.76 L360.50,290.17 L361.20,290.26 L361.90,290.14 L362.60,291.23 L363.30,290.56 L364.00,290.93 L364.70,290.62 L365.40,290.94 L366.10,291.53 L366.80,290.59 L367.50,290.75 L368.20,290.54 L368.90,291.29 L369.60,290.44 L370.30,290.39 L371.00,290.28 L371.70,290.27 L372.40,291.11 L373.10,292.06 L373.80,290.45 L374.50,291.33 L375.20,291.01 L375.90,290.40 L376.60,290.78 L377.30,290.80 L378.00,290.59 L378.70,291.77 L379.40,290.04 L380.10,291.07 L380.80,291.05 L381.50,290.64 L382.20,290.97 L382.90,291.29 L383.60,290.97 L384.30,291.09 L385.00,291.21 L385.70,289.99 L386.40,291.57 L387.10,291.93 L387.80,291.34 L388.50,291.36 L389.20,290.27 L389.90,290.85 L390.60,290.53 L391.30,290.64 L392.00,291.34 L392.70,290.54 L393.40,290.84 L394.10,290.04 L394.80,290.83 L395.50,290.94 L396.20,290.58 L396.90,290.58 L397.60,291.75 L398.30,290.36 L399.00,290.43 L399.70,290.54 L400.40,291.44 L401.10,291.85 L401.80,291.05 L402.50,290.58 L403.20,290.71 L403.90,291.38 L404.60,290.49 L405.30,291.55 L406.00,291.54 L406.70,290.93 L407.40,291.19 L408.10,290.04 L408.80,291.60 L409.50,290.43 L410.20,291.43 L410.90,290.73 L411.60,290.55 L412.30,290.95 L413.00,290.80 L413.70,290.46 L414.40,290.18 L415.10,290.48 L415.80,291.55 L416.50,291.78 L417.20,291.19 L417.90,291.43 L418.60,290.67 L419.30,290.87 L420.00,291.03 L420.70,290.41 L421.40,290.45 L422.10,290.94 L422.80,290.76 L423.50,290.42 L424.20,291.07 L424.90,290.78 L425.60,291.36 L426.30,290.90 L427.00,290.76 L427.70,290.96 L428.40,290.82 L429.10,290.60 L429.80,290.72 L430.50,291.24 L431.20,291.19 L431.90,291.48 L432.60,290.14 L433.30,290.72 L434.00,290.71 L434.70,290.98 L435.40,290.70 L436.10,290.67 L436.80,291.25 L437.50,290.98 L438.20,290.38 L438.90,291.50 L439.60,291.35 L440.30,290.64 L441.00,291.27 L441.70,290.57 L442.40,291.41 L443.10,290.80 L443.80,290.54 L444.50,290.73 L445.20,290.56 L445.90,290.99 L446.60,290.98 L447.30,290.92 L448.00,290.65 L448.70,289.25 L449.40,290.94 L450.10,290.05 L450.80,291.01 L451.50,291.41 L452.20,291.02 L452.90,290.72 L453.60,290.82 L454.30,290.84 L455.00,290.65 L455.70,290.64 L456.40,290.48 L457.10,291.43 L457.80,290.89 L458.50,291.33 L459.20,290.79 L459.90,290.93 L460.60,290.82 L461.30,291.11 L462.00,291.27 L462.70,291.01 L463.40,290.60 L464.10,290.55 L464.80,291.65 L465.50,290.77 L466.20,290.77 L466.90,291.56 L467.60,291.39 L468.30,291.14 L469.00,290.72 L469.70,292.96 L470.40,291.08 L471.10,291.15 L471.80,290.82 L472.50,290.26 L473.20,290.30 L473.90,291.08 L474.60,291.08 L475.30,290.79 L476.00,290.37 L476.70,290.25 L477.40,290.75 L478.10,290.24 L478.80,291.30 L479.50,291.42 L480.20,292.17 L480.90,291.30 L481.60,290.63 L482.30,290.51 L483.00,289.35 L483.70,290.63 L484.40,290.82 L485.10,291.34 L485.80,291.18 L486.50,291.16 L487.20,291.00 L487.90,291.20 L488.60,291.55 L489.30,290.42 L490.00,290.69 L490.70,290.28 L491.40,291.63 L492.10,291.48 L492.80,291.24 L493.50,290.36 L494.20,290.98 L494.90,290.79 L495.60,290.94 L496.30,290.82 L497.00,291.13 L497.70,290.72 L498.40,291.28 L499.10,291.01 L499.80,290.77 L500.50,290.85 L501.20,290.70 L501.90,291.27 L502.60,290.78 L503.30,291.03 L504.00,290.72 L504.70,290.23 L505.40,291.31 L506.10,290.42 L506.80,291.21 L507.50,291.09 L508.20,290.15 L508.90,290.47 L509.60,290.67 L510.30,290.53 L511.00,290.37 L511.70,291.23 L512.40,290.79 L513.10,291.07 L513.80,290.71 L514.50,291.04 L515.20,290.56" stroke="#08bec6" stroke-width="2.1" fill="none" stroke-linejoin="round"/>
<path d="M293.2,299.9 H319" stroke="#f69a18" stroke-width="1.4" fill="none"/>
<path d="M319.5,299.3 V196.8" stroke="#f69a18" stroke-width="2.0" fill="none"/>
<path d="M433.6,298 V198.2 Q435.4,195.8 437.2,198.2 V298" stroke="#f69a18" stroke-width="1.6" fill="none"/>
<path d="M488.8,297.5 V197.2 L492,197.6 L495,196.9 L498,197.4 L500.7,197.0 V297.5" stroke="#f69a18" stroke-width="1.6" fill="none"/>
<path d="M319.60,298.59 L320.10,298.62 L320.60,298.11 L321.10,297.51 L321.60,296.80 L322.10,296.75 L322.60,296.09 L323.10,294.96 L323.60,293.85 L324.10,293.56 L324.60,293.61 L325.10,291.90 L325.60,291.52 L326.10,290.95 L326.60,289.26 L327.10,289.74 L327.60,288.88 L328.10,289.13 L328.60,287.98 L329.10,287.29 L329.60,287.05 L330.10,286.81 L330.60,286.23 L331.10,286.16 L331.60,285.43 L332.10,285.64 L332.60,285.81 L333.10,286.07 L333.60,285.42 L334.10,285.09 L334.60,285.28 L335.10,285.06 L335.60,285.16 L336.10,284.80 L336.60,284.20 L337.10,284.19 L337.60,284.00 L338.10,283.89 L338.60,283.70 L339.10,283.18 L339.60,282.54 L340.10,282.97 L340.60,282.36 L341.10,283.08 L341.60,283.01 L342.10,282.36 L342.60,283.26 L343.10,283.34 L343.60,283.05 L344.10,283.66 L344.60,283.75 L345.10,282.60 L345.60,283.47 L346.10,283.26 L346.60,283.28 L347.10,283.50 L347.60,282.90 L348.10,282.98 L348.60,282.92 L349.10,282.98 L349.60,283.27 L350.10,282.84 L350.60,283.13 L351.10,283.94 L351.60,283.92 L352.10,284.36 L352.60,283.79 L353.10,284.52 L353.60,284.92 L354.10,285.47 L354.60,285.55 L355.10,286.44 L355.60,286.36 L356.10,286.71 L356.60,287.05 L357.10,287.68 L357.60,287.59 L358.10,288.56 L358.60,288.65 L359.10,288.86 L359.60,289.12 L360.10,289.60 L360.60,290.11 L361.10,290.39 L361.60,290.43 L362.10,290.79 L362.60,290.54 L363.10,290.92 L363.60,290.30 L364.10,289.35 L364.60,290.45 L365.10,289.78 L365.60,289.11 L366.10,289.33 L366.60,288.98 L367.10,290.12 L367.60,289.68 L368.10,289.19 L368.60,290.32 L369.10,290.26 L369.60,291.31 L370.10,290.19 L370.60,289.69 L371.10,290.48 L371.60,290.22 L372.10,290.07 L372.60,289.28 L373.10,290.13 L373.60,290.50 L374.10,289.05 L374.60,290.16 L375.10,289.48 L375.60,290.59 L376.10,289.87 L376.60,289.63 L377.10,290.12 L377.60,289.90 L378.10,289.47 L378.60,289.97 L379.10,289.51 L379.60,289.02 L380.10,290.47 L380.60,289.57 L381.10,289.47 L381.60,289.83 L382.10,289.08 L382.60,289.12 L383.10,289.38 L383.60,289.30 L384.10,289.43 L384.60,289.72 L385.10,289.00 L385.60,289.25 L386.10,289.17 L386.60,288.40 L387.10,288.77 L387.60,288.21 L388.10,288.85 L388.60,288.51 L389.10,288.25 L389.60,287.65 L390.10,288.13 L390.60,287.75 L391.10,288.28 L391.60,287.95 L392.10,287.69 L392.60,288.36 L393.10,288.29 L393.60,287.80 L394.10,288.48 L394.60,287.94 L395.10,287.95 L395.60,288.14 L396.10,287.83 L396.60,287.97 L397.10,288.11 L397.60,288.78 L398.10,288.80 L398.60,288.17 L399.10,288.91 L399.60,288.32 L400.10,288.52 L400.60,288.76 L401.10,288.62 L401.60,289.55 L402.10,288.88 L402.60,288.52 L403.10,289.66 L403.60,289.21 L404.10,289.44 L404.60,288.60 L405.10,290.27 L405.60,290.32 L406.10,290.39 L406.60,290.50 L407.10,290.81 L407.60,290.18 L408.10,290.57 L408.60,289.95 L409.10,290.12 L409.60,290.68 L410.10,290.44 L410.60,289.81 L411.10,290.48 L411.60,290.31 L412.10,290.11 L412.60,290.64 L413.10,290.38 L413.60,290.02 L414.10,290.28 L414.60,291.47 L415.10,290.33 L415.60,291.11 L416.10,291.38 L416.60,291.53 L417.10,290.96 L417.60,291.50 L418.10,291.92 L418.60,292.46 L419.10,292.23 L419.60,292.36 L420.10,293.52 L420.60,293.88 L421.10,293.90 L421.60,293.79 L422.10,294.39 L422.60,294.46 L423.10,294.89 L423.60,294.23 L424.10,294.89 L424.60,294.92 L425.10,294.70 L425.60,295.37 L426.10,295.50 L426.60,295.58 L427.10,296.18 L427.60,295.81 L428.10,296.64 L428.60,297.11 L429.10,297.30 L429.60,297.78 L430.10,297.04 L430.60,297.04 L431.10,297.80 L431.60,297.98 L432.10,298.69 L432.60,298.18 L433.10,297.65 L433.60,298.31" stroke="#f69a18" stroke-width="1.9" fill="none" stroke-linejoin="round"/>
<path d="M437.20,296.90 L437.70,296.23 L438.20,297.20 L438.70,295.92 L439.20,295.57 L439.70,295.03 L440.20,294.96 L440.70,293.91 L441.20,293.71 L441.70,292.39 L442.20,291.72 L442.70,292.14 L443.20,291.54 L443.70,290.55 L444.20,289.78 L444.70,289.11 L445.20,288.19 L445.70,288.40 L446.20,287.60 L446.70,287.13 L447.20,286.68 L447.70,286.50 L448.20,285.91 L448.70,285.60 L449.20,284.55 L449.70,284.79 L450.20,285.06 L450.70,283.83 L451.20,283.73 L451.70,283.91 L452.20,283.80 L452.70,283.62 L453.20,282.84 L453.70,283.60 L454.20,283.04 L454.70,283.22 L455.20,283.76 L455.70,283.54 L456.20,284.01 L456.70,284.92 L457.20,284.19 L457.70,284.27 L458.20,283.81 L458.70,284.00 L459.20,283.96 L459.70,284.26 L460.20,284.18 L460.70,284.46 L461.20,284.75 L461.70,284.63 L462.20,284.65 L462.70,284.84 L463.20,285.66 L463.70,285.72 L464.20,286.27 L464.70,286.51 L465.20,286.29 L465.70,286.94 L466.20,286.53 L466.70,288.18 L467.20,288.16 L467.70,288.04 L468.20,288.09 L468.70,289.00 L469.20,288.57 L469.70,289.32 L470.20,290.24 L470.70,290.41 L471.20,290.63 L471.70,291.55 L472.20,291.25 L472.70,292.09 L473.20,292.16 L473.70,292.35 L474.20,293.06 L474.70,292.77 L475.20,293.98 L475.70,293.30 L476.20,294.37 L476.70,293.45 L477.20,294.19 L477.70,293.70 L478.20,293.79 L478.70,294.45 L479.20,294.76 L479.70,294.20 L480.20,295.18 L480.70,294.60 L481.20,295.03 L481.70,295.22 L482.20,295.39 L482.70,294.65 L483.20,295.94 L483.70,295.68 L484.20,295.43 L484.70,295.33 L485.20,295.21 L485.70,295.45 L486.20,296.24 L486.70,296.07 L487.20,295.93 L487.70,296.29 L488.20,297.17 L488.70,296.65" stroke="#f69a18" stroke-width="1.9" fill="none" stroke-linejoin="round"/>
<path d="M500.70,297.15 L501.20,297.54 L501.70,297.20 L502.20,296.95 L502.70,296.61 L503.20,296.16 L503.70,296.02 L504.20,295.93 L504.70,295.73 L505.20,295.58 L505.70,295.34 L506.20,294.96 L506.70,294.67 L507.20,294.08 L507.70,293.51 L508.20,293.63 L508.70,293.24 L509.20,293.01 L509.70,292.80 L510.20,292.22 L510.70,291.90 L511.20,291.77 L511.70,291.42 L512.20,290.76 L512.70,290.52 L513.20,289.76 L513.70,288.92 L514.20,288.51 L514.70,288.26" stroke="#f69a18" stroke-width="1.9" fill="none" stroke-linejoin="round"/>
<path d="M52.00,116.80 V7.60 M51.10,115.90 H249.80" stroke="#2c2c2c" stroke-width="1.9" fill="none"/>
<path d="M52.00,4.30 L48.20,8.10 L55.80,8.10 Z M253.10,115.90 L249.30,112.10 L249.30,119.70 Z" fill="#111"/>
<path d="M291.60,116.80 V7.30 M290.70,115.90 H489.40" stroke="#2c2c2c" stroke-width="1.65" fill="none"/>
<path d="M291.60,4.10 L287.90,7.80 L295.30,7.80 Z M492.60,115.90 L488.90,112.20 L488.90,119.60 Z" fill="#111"/>
<path d="M23.60,301.80 V179.10 M22.70,300.90 H246.90" stroke="#2c2c2c" stroke-width="1.9" fill="none"/>
<path d="M23.60,175.00 L19.20,179.60 L28.00,179.60 Z M251.00,300.90 L246.40,296.50 L246.40,305.30 Z" fill="#111"/>
<path d="M293.20,300.00 V177.20 M292.30,299.10 H516.50" stroke="#2c2c2c" stroke-width="2.0" fill="none"/>
<path d="M293.20,173.30 L289.00,177.70 L297.40,177.70 Z M520.40,299.10 L516.00,294.90 L516.00,303.30 Z" fill="#111"/>
<g fill="#161616" stroke="#161616" stroke-width="0.14">
<text transform="translate(58.80,11.60) scale(1,1.05)" font-size="11.7" textLength="103.5" lengthAdjust="spacing">Angular position(deg)</text>
<text transform="translate(297.90,11.70) scale(1,1.05)" font-size="11.75" textLength="103.6" lengthAdjust="spacing">Angular position(deg)</text>
<text transform="translate(32.20,183.60) scale(1,1.07)" font-size="13.1" textLength="116.1" lengthAdjust="spacing">Angular position(deg)</text>
<text transform="translate(302.10,180.80) scale(1,1.06)" font-size="13.3" textLength="117.8" lengthAdjust="spacing">Angular position(deg)</text>
<path d="M168.6,10.0 H193.6" stroke="#19a9cb" stroke-width="2" fill="none"/>
<path d="M168.6,22.2 H193.6" stroke="#ffb20a" stroke-width="2" fill="none"/>
<text x="198.20" y="12.90" font-size="9.3" textLength="56.4" lengthAdjust="spacing" stroke-width="0.04">Actual position</text>
<text x="198.20" y="24.90" font-size="9.3" textLength="72.6" lengthAdjust="spacing" stroke-width="0.04">Estimating location</text>
<path d="M421.4,10.8 H446.4" stroke="#19a9cb" stroke-width="2" fill="none"/>
<path d="M421.4,22.5 H446.4" stroke="#ffb20a" stroke-width="2" fill="none"/>
<text transform="translate(451.00,13.80) scale(1,1.04)" font-size="9.3" textLength="56.0" lengthAdjust="spacing" stroke-width="0.04">Actual position</text>
<text transform="translate(451.00,25.50) scale(1,1.04)" font-size="9.3" textLength="72.8" lengthAdjust="spacing" stroke-width="0.04">Estimating location</text>
<path d="M133.3,189.9 H160.5" stroke="#19a9cb" stroke-width="2" fill="none"/>
<path d="M133.3,203.6 H160.5" stroke="#ffb20a" stroke-width="2" fill="none"/>
<text transform="translate(165.60,193.80) scale(1,1.1)" font-size="10.55" textLength="64.5" lengthAdjust="spacing">Actual position</text>
<text transform="translate(165.60,206.80) scale(1,1.1)" font-size="10.55" textLength="83.2" lengthAdjust="spacing">Estimating location</text>
<path d="M425.7,188.0 H453.6" stroke="#19a9cb" stroke-width="2" fill="none"/>
<path d="M425.7,201.4 H453.6" stroke="#ffb20a" stroke-width="2" fill="none"/>
<text transform="translate(458.50,191.80) scale(1,1.1)" font-size="10.55" textLength="64.6" lengthAdjust="spacing">Actual position</text>
<text transform="translate(458.50,204.80) scale(1,1.1)" font-size="10.55" textLength="83.5" lengthAdjust="spacing">Estimating location</text>
<text x="50.70" y="31.20" font-size="11.6" text-anchor="end">360</text>
<text x="50.70" y="52.80" font-size="11.6" text-anchor="end">270</text>
<text x="50.70" y="75.50" font-size="11.6" text-anchor="end">180</text>
<text x="50.70" y="96.60" font-size="11.6" text-anchor="end">90</text>
<text x="290.40" y="30.80" font-size="11.1" text-anchor="end">360</text>
<text x="290.40" y="52.50" font-size="11.1" text-anchor="end">270</text>
<text x="290.40" y="75.30" font-size="11.1" text-anchor="end">180</text>
<text x="290.40" y="96.50" font-size="11.1" text-anchor="end">90</text>
<text x="22.10" y="204.80" font-size="12.6" text-anchor="end">360</text>
<text x="22.10" y="229.80" font-size="12.6" text-anchor="end">270</text>
<text x="22.10" y="255.30" font-size="12.6" text-anchor="end">180</text>
<text x="22.10" y="279.20" font-size="12.6" text-anchor="end">90</text>
<text x="292.30" y="203.30" font-size="13.0" text-anchor="end">360</text>
<text x="292.30" y="227.80" font-size="13.0" text-anchor="end">270</text>
<text x="292.30" y="253.50" font-size="13.0" text-anchor="end">180</text>
<text x="292.30" y="277.70" font-size="13.0" text-anchor="end">90</text>
<text x="53.15" y="128.70" font-size="15.2" text-anchor="middle">0</text>
<text x="74.80" y="127.50" font-size="11.6" text-anchor="middle">1</text>
<text x="96.75" y="127.60" font-size="11.6" text-anchor="middle">2</text>
<text x="119.30" y="127.90" font-size="11.6" text-anchor="middle">3</text>
<text x="139.60" y="128.00" font-size="11.6" text-anchor="middle">4</text>
<text x="162.10" y="128.10" font-size="11.6" text-anchor="middle">5</text>
<text x="184.30" y="128.50" font-size="11.6" text-anchor="middle">6</text>
<text x="206.70" y="128.60" font-size="11.6" text-anchor="middle">7</text>
<text x="228.60" y="128.70" font-size="11.6" text-anchor="middle">8</text>
<text x="250.60" y="128.80" font-size="11.6" text-anchor="middle">9</text>
<text x="291.55" y="127.70" font-size="11.0" text-anchor="middle">0</text>
<text x="313.90" y="127.80" font-size="11.0" text-anchor="middle">1</text>
<text x="336.00" y="127.90" font-size="11.0" text-anchor="middle">2</text>
<text x="358.40" y="128.00" font-size="11.0" text-anchor="middle">3</text>
<text x="378.90" y="128.10" font-size="11.0" text-anchor="middle">4</text>
<text x="401.55" y="128.30" font-size="11.0" text-anchor="middle">5</text>
<text x="423.50" y="128.60" font-size="11.0" text-anchor="middle">6</text>
<text x="446.00" y="128.70" font-size="11.0" text-anchor="middle">7</text>
<text x="468.30" y="128.80" font-size="11.0" text-anchor="middle">8</text>
<text x="490.20" y="128.90" font-size="11.0" text-anchor="middle">9</text>
<text x="24.70" y="314.90" font-size="14.4" text-anchor="middle">0</text>
<text x="49.35" y="314.00" font-size="12.4" text-anchor="middle">1</text>
<text x="74.15" y="314.30" font-size="12.4" text-anchor="middle">2</text>
<text x="99.10" y="314.80" font-size="12.4" text-anchor="middle">3</text>
<text x="122.00" y="314.60" font-size="12.4" text-anchor="middle">4</text>
<text x="147.55" y="314.70" font-size="12.4" text-anchor="middle">5</text>
<text x="172.70" y="314.80" font-size="12.4" text-anchor="middle">6</text>
<text x="197.70" y="314.80" font-size="12.4" text-anchor="middle">7</text>
<text x="223.20" y="314.90" font-size="12.4" text-anchor="middle">8</text>
<text x="248.00" y="315.00" font-size="12.4" text-anchor="middle">9</text>
<text x="293.40" y="312.40" font-size="12.3" text-anchor="middle">0</text>
<text x="318.40" y="312.60" font-size="12.3" text-anchor="middle">1</text>
<text x="343.60" y="312.80" font-size="12.3" text-anchor="middle">2</text>
<text x="368.40" y="313.40" font-size="12.3" text-anchor="middle">3</text>
<text x="392.00" y="312.90" font-size="12.3" text-anchor="middle">4</text>
<text x="417.50" y="313.30" font-size="12.3" text-anchor="middle">5</text>
<text x="442.50" y="313.80" font-size="12.3" text-anchor="middle">6</text>
<text x="467.60" y="314.00" font-size="12.3" text-anchor="middle">7</text>
<text x="492.70" y="314.00" font-size="12.3" text-anchor="middle">8</text>
<text x="517.90" y="314.10" font-size="12.3" text-anchor="middle">9</text>
<text x="259.00" y="120.30" font-size="11.3" textLength="15.3" lengthAdjust="spacing">t(s)</text>
<text x="500.00" y="119.70" font-size="11.3" textLength="15.1" lengthAdjust="spacing">t(s)</text>
<text x="256.20" y="302.60" font-size="12.2" textLength="16.3" lengthAdjust="spacing">t(s)</text>
<text x="528.10" y="302.70" font-size="12.2" textLength="17.1" lengthAdjust="spacing">t(s)</text>
</g>
<text x="92.0" y="154.7" font-size="14.2" textLength="68.6" lengthAdjust="spacingAndGlyphs" fill="#161616" stroke="#161616" stroke-width="0.1">(<tspan font-weight="bold" stroke-width="0">a</tspan>) 200 Hz</text>
<text x="384.3" y="154.0" font-size="14.2" textLength="70.8" lengthAdjust="spacingAndGlyphs" fill="#161616" stroke="#161616" stroke-width="0.1">(<tspan font-weight="bold" stroke-width="0">b</tspan>) 500 Hz</text>
<text x="88.7" y="342.6" font-size="14.6" textLength="75.8" lengthAdjust="spacingAndGlyphs" fill="#161616" stroke="#161616" stroke-width="0.1">(<tspan font-weight="bold" stroke-width="0">c</tspan>) 1000 Hz</text>
<text x="380.8" y="342.4" font-size="14.8" textLength="78.7" lengthAdjust="spacingAndGlyphs" fill="#161616" stroke="#161616" stroke-width="0.1">(<tspan font-weight="bold" stroke-width="0">d</tspan>) 2000 Hz</text>
</svg>
</body></html>
